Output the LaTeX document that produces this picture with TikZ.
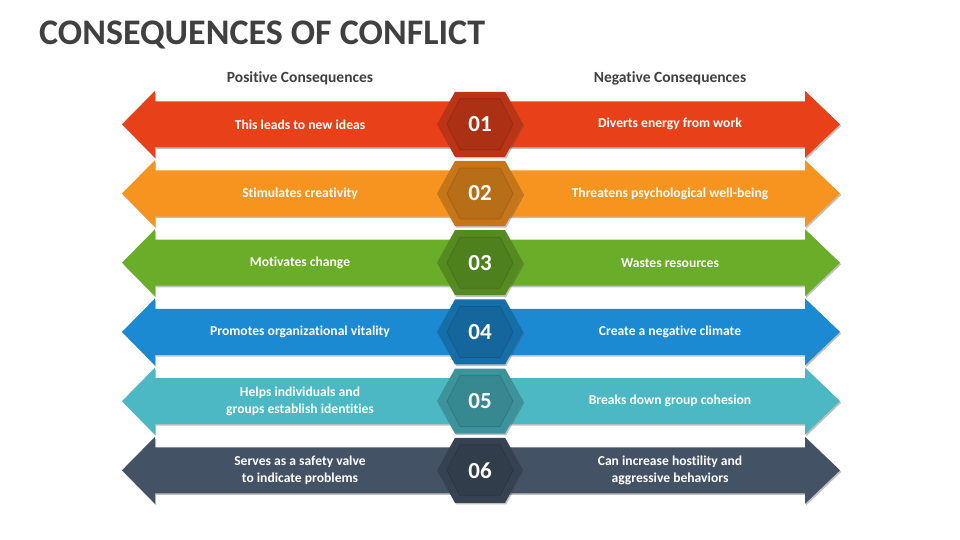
\documentclass[tikz,border=0pt]{standalone}
\usepackage{fontspec}
\setmainfont[Ligatures=NoCommon]{Carlito}
\usetikzlibrary{shadows}
\definecolor{titlegray}{HTML}{404040}
\definecolor{rowred}{HTML}{E8411A}
\definecolor{roworange}{HTML}{F7941F}
\definecolor{rowgreen}{HTML}{6AAD28}
\definecolor{rowblue}{HTML}{1B8AD3}
\definecolor{rowteal}{HTML}{4BB8C3}
\definecolor{rowslate}{HTML}{445266}
\tikzset{
  softshadow/.style={drop shadow={shadow xshift=1.2pt, shadow yshift=-1.6pt, opacity=.35, fill=black!70}},
  titletext/.style={text=titlegray, font=\fontsize{36}{40}\selectfont\bfseries, inner sep=0pt},
  headtext/.style={text=titlegray, font=\fontsize{15.5}{18}\selectfont\bfseries},
  itemtext/.style={text=white, align=center, font=\fontsize{13.6}{17}\selectfont\bfseries},
  numtext/.style={text=white, font=\fontsize{23}{25}\selectfont\bfseries}
}
% double arrow band, centre line at y = #2
\def\dblarrow[#1](#2){\fill[#1,softshadow] (122,#2) -- (155,#2-33.5) -- (155,#2-23) -- (805,#2-23) -- (805,#2-33.5) -- (840,#2) -- (805,#2+33.5) -- (805,#2+23) -- (155,#2+23) -- (155,#2+33.5) -- cycle;}
% hexagon badge in the middle of a band
\def\hexbadge[#1](#2)#3{%
  \fill[#1!80!black,softshadow] (437,#2) -- (455,#2-32.5) -- (505,#2-32.5) -- (523,#2) -- (505,#2+32.5) -- (455,#2+32.5) -- cycle;
  \draw[line width=0.8pt, draw=#1!66!black, fill=#1!74!black] (447,#2) -- (460,#2-25.5) -- (500,#2-25.5) -- (513,#2) -- (500,#2+25.5) -- (460,#2+25.5) -- cycle;
  \node[numtext] (hex#3) at (480,#2) {#3};}

\begin{document}
\begin{tikzpicture}[x=1pt, y=-1pt]
		%%%%% START %%%%%
		\useasboundingbox[fill=white] (0,0) rectangle (960,540);
		
		\node[titletext, anchor=west] (title) at (39,34.5) {CONSEQUENCES OF CONFLICT};
		\node[headtext] (poshead) at (300,78.5) {Positive Consequences};
		\node[headtext] (neghead) at (670,78.5) {Negative Consequences};
		
		\dblarrow[rowred](124.3)
		\hexbadge[rowred](124.3){01}
		\node[itemtext] (pos1) at (300,124.3) {This leads to new ideas};
		\node[itemtext] (neg1) at (670,124.3) {Diverts energy from work};
		
		\dblarrow[roworange](193.5)
		\hexbadge[roworange](193.5){02}
		\node[itemtext] (pos2) at (300,193.5) {Stimulates creativity};
		\node[itemtext] (neg2) at (670,193.5) {Threatens psychological well-being};
		
		\dblarrow[rowgreen](262.7)
		\hexbadge[rowgreen](262.7){03}
		\node[itemtext] (pos3) at (300,262.7) {Motivates change};
		\node[itemtext] (neg3) at (670,262.7) {Wastes resources};
		
		\dblarrow[rowblue](331.9)
		\hexbadge[rowblue](331.9){04}
		\node[itemtext] (pos4) at (300,331.9) {Promotes organizational vitality};
		\node[itemtext] (neg4) at (670,331.9) {Create a negative climate};
		
		\dblarrow[rowteal](401.1)
		\hexbadge[rowteal](401.1){05}
		\node[itemtext] (pos5) at (300,401.1) {Helps individuals and\\groups establish identities};
		\node[itemtext] (neg5) at (670,401.1) {Breaks down group cohesion};
		
		\dblarrow[rowslate](470.3)
		\hexbadge[rowslate](470.3){06}
		\node[itemtext] (pos6) at (300,470.3) {Serves as a safety valve\\to indicate problems};
		\node[itemtext] (neg6) at (670,470.3) {Can increase hostility and\\aggressive behaviors};
		
		%%%%% END %%%%%
	\end{tikzpicture}
\end{document}
